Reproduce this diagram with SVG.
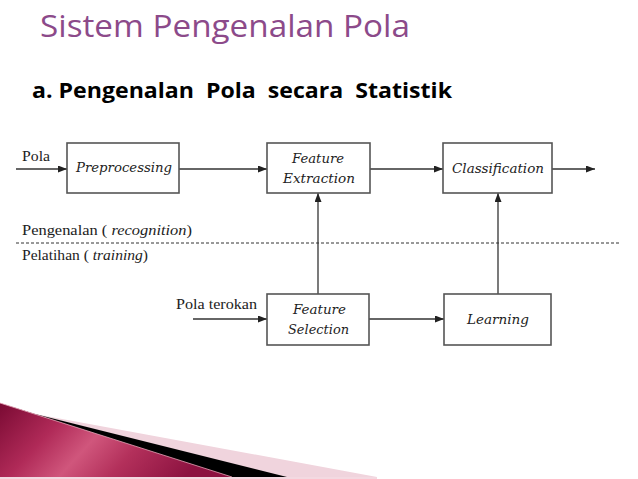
<svg xmlns="http://www.w3.org/2000/svg" width="638" height="479" viewBox="0 0 638 479">
<defs>
<style>
.title{font-family:"Open Sans","DejaVu Sans",sans-serif;font-size:31px;fill:#8c4a8a}
.sub{font-family:"Open Sans","DejaVu Sans",sans-serif;font-size:22px;font-weight:bold;fill:#000;white-space:pre}
.box{fill:#fff;stroke:#555;stroke-width:1.6}
.lbl{font-family:"DejaVu Serif","Liberation Serif",serif;font-style:italic;font-size:13px;fill:#222}
.txt{font-family:"Liberation Serif","DejaVu Serif",serif;font-size:14px;fill:#222}
.it{font-style:italic}
.ln{stroke:#333;stroke-width:1.3;fill:none}
</style>
<marker id="ah" markerUnits="userSpaceOnUse" markerWidth="10" markerHeight="8" refX="9" refY="3.5" orient="auto">
<path d="M0,0 L9,3.5 L0,7 z" fill="#222"/>
</marker>
<linearGradient id="mag" x1="0" y1="0" x2="1" y2="0.3">
<stop offset="0" stop-color="#7a0a33"/>
<stop offset="0.3" stop-color="#b02a58"/>
<stop offset="0.5" stop-color="#d0567c"/>
<stop offset="0.7" stop-color="#b3305b"/>
<stop offset="1" stop-color="#8c1240"/>
</linearGradient>
</defs>
<rect width="638" height="479" fill="#fff"/>

<g id="decoration">
<polygon points="35,414 377,477 377,479 287,479" fill="#f0d4dd"/>
<polygon points="0,403 35,414 287,477 287,479 232,479" fill="#000"/>
<polygon points="0,403 232,477 232,479 0,479" fill="url(#mag)"/>
<line x1="0" y1="403" x2="232" y2="477" stroke="#e7a3b8" stroke-width="0.8"/>
<rect x="0" y="477" width="377" height="2" fill="#f3d9e1"/>
</g>

<text class="title" x="40" y="37" textLength="370" lengthAdjust="spacingAndGlyphs">Sistem Pengenalan Pola</text>
<text class="sub" x="32" y="98" textLength="420" lengthAdjust="spacingAndGlyphs">a. Pengenalan  Pola  secara  Statistik</text>

<g id="connectors">
<line class="ln" x1="16" y1="169" x2="67" y2="169" marker-end="url(#ah)"/>
<line class="ln" x1="179" y1="169" x2="267" y2="169" marker-end="url(#ah)"/>
<line class="ln" x1="370" y1="169" x2="443" y2="169" marker-end="url(#ah)"/>
<line class="ln" x1="552" y1="169" x2="595" y2="169" marker-end="url(#ah)"/>
<line class="ln" x1="193" y1="319" x2="267" y2="319" marker-end="url(#ah)"/>
<line class="ln" x1="369" y1="319" x2="444" y2="319" marker-end="url(#ah)"/>
<line class="ln" x1="318" y1="294" x2="318" y2="193" marker-end="url(#ah)"/>
<line class="ln" x1="498" y1="294" x2="498" y2="193" marker-end="url(#ah)"/>
<line x1="16" y1="243" x2="620" y2="243" stroke="#333" stroke-width="1" stroke-dasharray="3,2"/>
</g>

<g id="labels">
<text class="txt" x="22" y="161" textLength="28" lengthAdjust="spacingAndGlyphs">Pola</text>
<text class="txt" x="22" y="235" textLength="170" lengthAdjust="spacingAndGlyphs">Pengenalan ( <tspan class="it">recognition</tspan>)</text>
<text class="txt" x="22" y="260" textLength="126" lengthAdjust="spacingAndGlyphs">Pelatihan ( <tspan class="it">training</tspan>)</text>
<text class="txt" x="176" y="309" textLength="81" lengthAdjust="spacingAndGlyphs">Pola terokan</text>
</g>

<g id="preprocessing">
<rect class="box" x="67" y="143" width="112" height="50"/>
<text class="lbl" x="76" y="172" textLength="96" lengthAdjust="spacingAndGlyphs">Preprocessing</text>
</g>
<g id="feature-extraction">
<rect class="box" x="267" y="143" width="103" height="50"/>
<text class="lbl" x="292" y="163" textLength="52" lengthAdjust="spacingAndGlyphs">Feature</text>
<text class="lbl" x="283" y="183" textLength="72" lengthAdjust="spacingAndGlyphs">Extraction</text>
</g>
<g id="classification">
<rect class="box" x="443" y="143" width="109" height="50"/>
<text class="lbl" x="452" y="173" textLength="92" lengthAdjust="spacingAndGlyphs">Classification</text>
</g>
<g id="feature-selection">
<rect class="box" x="267" y="294" width="102" height="51"/>
<text class="lbl" x="293" y="314" textLength="53" lengthAdjust="spacingAndGlyphs">Feature</text>
<text class="lbl" x="288" y="334" textLength="61" lengthAdjust="spacingAndGlyphs">Selection</text>
</g>
<g id="learning">
<rect class="box" x="444" y="294" width="107" height="51"/>
<text class="lbl" x="467" y="324" textLength="62" lengthAdjust="spacingAndGlyphs">Learning</text>
</g>
</svg>
